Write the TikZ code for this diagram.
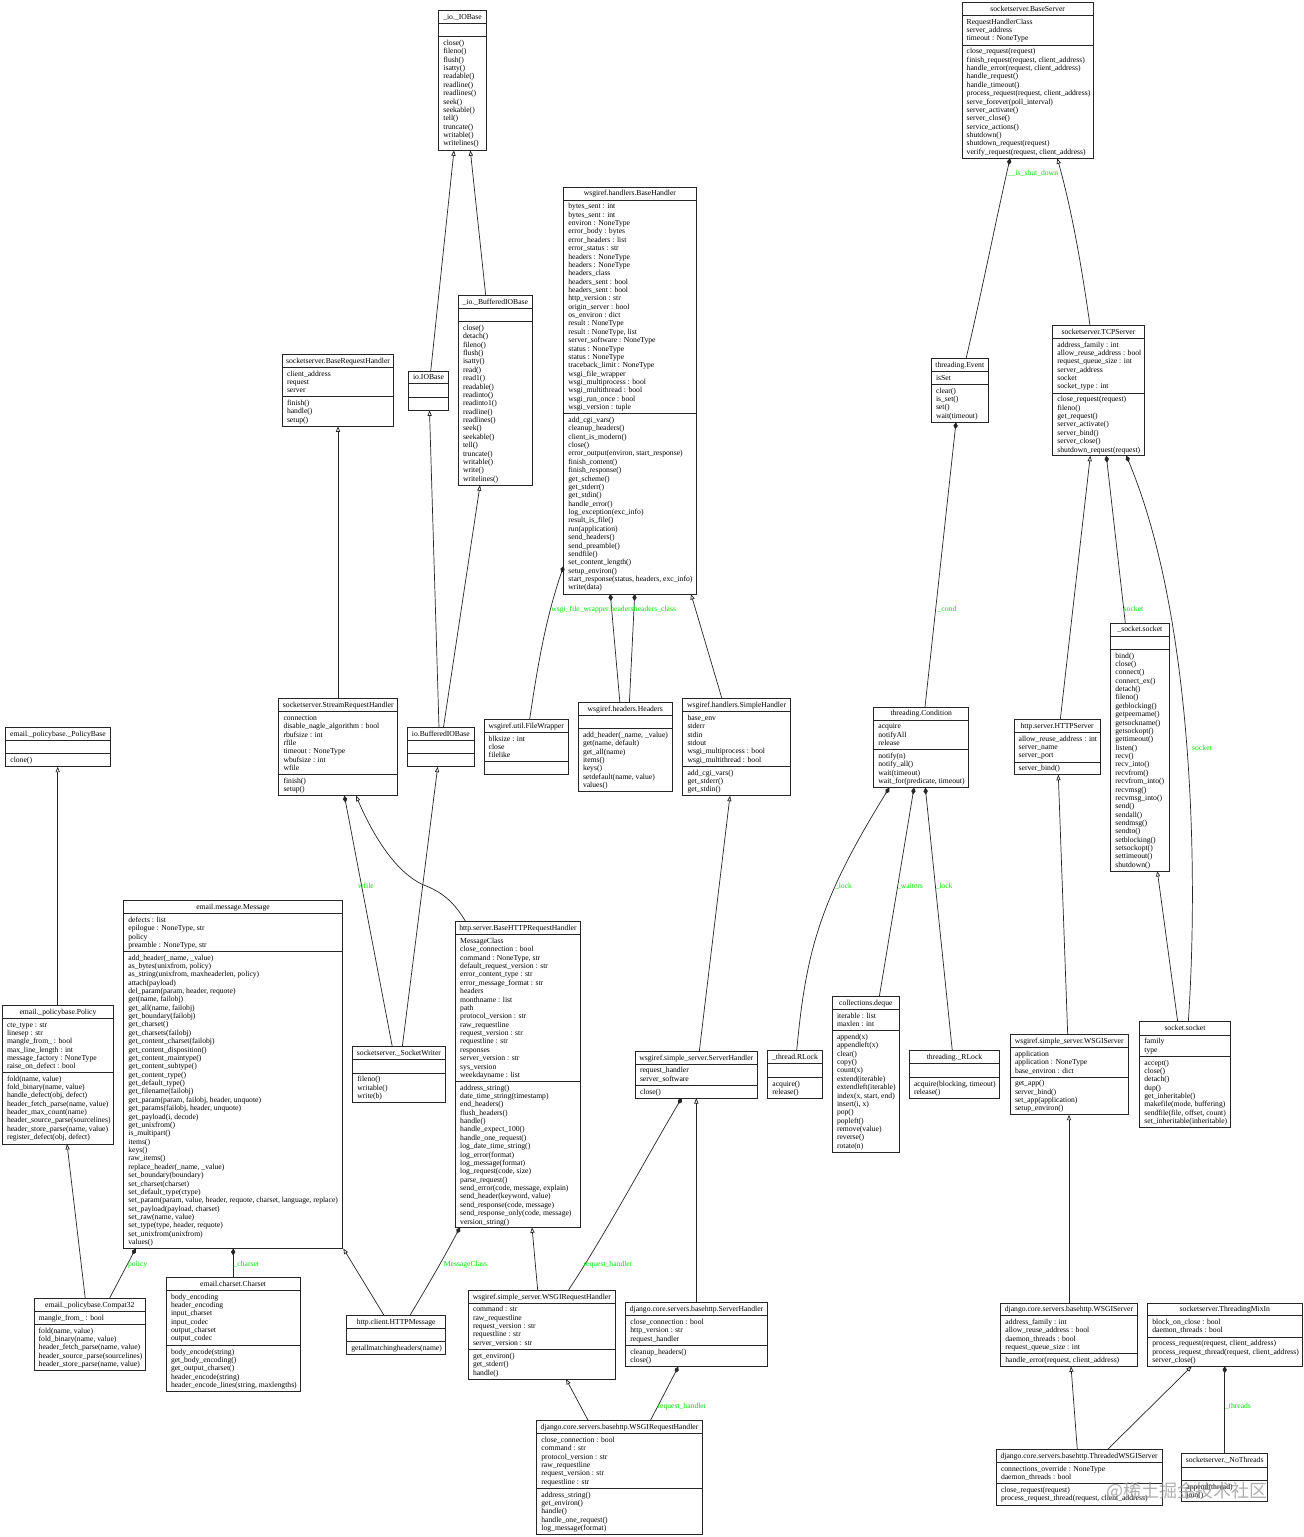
\documentclass[tikz,border=0pt]{standalone}
\usepackage{fontspec}
\setmainfont{Liberation Serif}
\newfontfamily\cjk{Noto Sans CJK SC}
\usetikzlibrary{calc,fit,arrows.meta}
\tikzset{
    classbox/.style={draw=black!85, line width=0.8pt, inner sep=0pt, outer sep=0pt},
    classrule/.style={draw=black!85, line width=0.8pt},
    classtitle/.style={anchor=base, yshift=-2.4pt, inner sep=0pt, font=\fontsize{7.65}{8.37}\selectfont},
    classtext/.style={anchor=north west, xshift=4.5pt, yshift=-3pt, inner sep=0pt, align=left, font=\fontsize{7.65}{8.37}\selectfont},
    edgelabel/.style={anchor=base, yshift=-1pt, inner sep=0pt, text=green!90!black, font=\fontsize{7.65}{8.37}\selectfont},
    inherit/.style={draw=black!85, line width=0.7pt, -{Triangle[open,length=5.5pt,width=4.2pt]}},
    compose/.style={draw=black!85, line width=0.7pt, -{Diamond[length=7pt,width=4.4pt]}}
}
% name, top left, bottom right, first rule, second rule, title, attributes, methods
\newcommand{\umlclass}[8]{%
    \node[classbox, fit={(#2) (#3)}] (#1) {};
    \draw[classrule] (#1.west |- 0,#4) -- (#1.east |- 0,#4);
    \draw[classrule] (#1.west |- 0,#5) -- (#1.east |- 0,#5);
    \node[classtitle] (#1t) at ($(#1.north)!.5!(#1.north |- 0,#4)$) {#6};
    \node[classtext] (#1a) at (#1.west |- 0,#4) {\rule{0pt}{5.6pt}#7};
    \node[classtext] (#1m) at (#1.west |- 0,#5) {\rule{0pt}{5.6pt}#8};
}
\catcode`\_=12
\begin{document}
\begin{tikzpicture}[x=1pt,y=-1pt]
    \path[use as bounding box, fill=white] (0,0) rectangle (1304,1537);

    % left column
    \umlclass{policybase}{5.7,727.7}{110.3,766.7}{740.7}{753.7}{email._policybase._PolicyBase}{}{clone()}
    \umlclass{policy}{2.3,1005.3}{113.7,1144}{1018.3}{1072.3}{email._policybase.Policy}
        {cte_type : str\\linesep : str\\mangle_from_ : bool\\max_line_length : int\\message_factory : NoneType\\raise_on_defect : bool}
        {fold(name, value)\\fold_binary(name, value)\\handle_defect(obj, defect)\\header_fetch_parse(name, value)\\header_max_count(name)\\header_source_parse(sourcelines)\\header_store_parse(name, value)\\register_defect(obj, defect)}
    \umlclass{compat}{34,1298.7}{145.7,1370.3}{1311.7}{1324.3}{email._policybase.Compat32}
        {mangle_from_ : bool}
        {fold(name, value)\\fold_binary(name, value)\\header_fetch_parse(name, value)\\header_source_parse(sourcelines)\\header_store_parse(name, value)}
    \umlclass{message}{123.7,900.5}{342.5,1248.5}{913.5}{951.2}{email.message.Message}
        {defects : list\\epilogue : NoneType, str\\policy\\preamble : NoneType, str}
        {add_header(_name, _value)\\as_bytes(unixfrom, policy)\\as_string(unixfrom, maxheaderlen, policy)\\attach(payload)\\del_param(param, header, requote)\\get(name, failobj)\\get_all(name, failobj)\\get_boundary(failobj)\\get_charset()\\get_charsets(failobj)\\get_content_charset(failobj)\\get_content_disposition()\\get_content_maintype()\\get_content_subtype()\\get_content_type()\\get_default_type()\\get_filename(failobj)\\get_param(param, failobj, header, unquote)\\get_params(failobj, header, unquote)\\get_payload(i, decode)\\get_unixfrom()\\is_multipart()\\items()\\keys()\\raw_items()\\replace_header(_name, _value)\\set_boundary(boundary)\\set_charset(charset)\\set_default_type(ctype)\\set_param(param, value, header, requote, charset, language, replace)\\set_payload(payload, charset)\\set_raw(name, value)\\set_type(type, header, requote)\\set_unixfrom(unixfrom)\\values()}
    \umlclass{charset}{166.3,1277.7}{300,1391.3}{1290.3}{1345.3}{email.charset.Charset}
        {body_encoding\\header_encoding\\input_charset\\input_codec\\output_charset\\output_codec}
        {body_encode(string)\\get_body_encoding()\\get_output_charset()\\header_encode(string)\\header_encode_lines(string, maxlengths)}
    \umlclass{httpmessage}{346.7,1315.3}{445.7,1354}{1328}{1341.3}{http.client.HTTPMessage}{}{getallmatchingheaders(name)}

    % io and request handlers
    \umlclass{iobase}{438.7,10.3}{486.3,150.3}{23.7}{36.7}{_io._IOBase}{}
        {close()\\fileno()\\flush()\\isatty()\\readable()\\readline()\\readlines()\\seek()\\seekable()\\tell()\\truncate()\\writable()\\writelines()}
    \umlclass{bufferedbase}{458.3,295.3}{532.3,485.3}{308.3}{321.7}{_io._BufferedIOBase}{}
        {close()\\detach()\\fileno()\\flush()\\isatty()\\read()\\read1()\\readable()\\readinto()\\readinto1()\\readline()\\readlines()\\seek()\\seekable()\\tell()\\truncate()\\writable()\\write()\\writelines()}
    \umlclass{ioiobase}{408.7,371.3}{448.3,410.3}{383.7}{397.3}{io.IOBase}{}{}
    \umlclass{baserequest}{282.3,354.7}{393.7,426.3}{367.3}{396.7}{socketserver.BaseRequestHandler}
        {client_address\\request\\server}
        {finish()\\handle()\\setup()}
    \umlclass{streamhandler}{278.8,698.7}{397.8,795.7}{711.7}{774.7}{socketserver.StreamRequestHandler}
        {connection\\disable_nagle_algorithm : bool\\rbufsize : int\\rfile\\timeout : NoneType\\wbufsize : int\\wfile}
        {finish()\\setup()}
    \umlclass{iobuffered}{407.6,727.7}{474.2,766.7}{740.3}{753.7}{io.BufferedIOBase}{}{}
    \umlclass{socketwriter}{352.7,1046.7}{445.3,1102.3}{1059.3}{1073}{socketserver._SocketWriter}{}
        {fileno()\\writable()\\write(b)}
    \umlclass{basehttp}{455.5,921.7}{580.3,1227.3}{934.7}{1081.3}{http.server.BaseHTTPRequestHandler}
        {MessageClass\\close_connection : bool\\command : NoneType, str\\default_request_version : str\\error_content_type : str\\error_message_format : str\\headers\\monthname : list\\path\\protocol_version : str\\raw_requestline\\request_version : str\\requestline : str\\responses\\server_version : str\\sys_version\\weekdayname : list}
        {address_string()\\date_time_string(timestamp)\\end_headers()\\flush_headers()\\handle()\\handle_expect_100()\\handle_one_request()\\log_date_time_string()\\log_error(format)\\log_message(format)\\log_request(code, size)\\parse_request()\\send_error(code, message, explain)\\send_header(keyword, value)\\send_response(code, message)\\send_response_only(code, message)\\version_string()}

    % wsgiref
    \umlclass{basehandler}{563.7,187}{696,594}{200}{413.7}{wsgiref.handlers.BaseHandler}
        {bytes_sent : int\\bytes_sent : int\\environ : NoneType\\error_body : bytes\\error_headers : list\\error_status : str\\headers : NoneType\\headers : NoneType\\headers_class\\headers_sent : bool\\headers_sent : bool\\http_version : str\\origin_server : bool\\os_environ : dict\\result : NoneType\\result : NoneType, list\\server_software : NoneType\\status : NoneType\\status : NoneType\\traceback_limit : NoneType\\wsgi_file_wrapper\\wsgi_multiprocess : bool\\wsgi_multithread : bool\\wsgi_run_once : bool\\wsgi_version : tuple}
        {add_cgi_vars()\\cleanup_headers()\\client_is_modern()\\close()\\error_output(environ, start_response)\\finish_content()\\finish_response()\\get_scheme()\\get_stderr()\\get_stdin()\\handle_error()\\log_exception(exc_info)\\result_is_file()\\run(application)\\send_headers()\\send_preamble()\\sendfile()\\set_content_length()\\setup_environ()\\start_response(status, headers, exc_info)\\write(data)}
    \umlclass{filewrapper}{484,719.7}{568.5,774.7}{732.3}{761.7}{wsgiref.util.FileWrapper}
        {blksize : int\\close\\filelike}{}
    \umlclass{headers}{578.3,702.7}{672.3,791.7}{715.3}{728.7}{wsgiref.headers.Headers}{}
        {add_header(_name, _value)\\get(name, default)\\get_all(name)\\items()\\keys()\\setdefault(name, value)\\values()}
    \umlclass{simplehandler}{682.8,698.7}{790.3,795.7}{711.7}{766.3}{wsgiref.handlers.SimpleHandler}
        {base_env\\stderr\\stdin\\stdout\\wsgi_multiprocess : bool\\wsgi_multithread : bool}
        {add_cgi_vars()\\get_stderr()\\get_stdin()}
    \umlclass{serverhandler}{635.3,1051.3}{757.3,1098}{1064}{1085.3}{wsgiref.simple_server.ServerHandler}
        {request_handler\\server_software}
        {close()}
    \umlclass{wsgirequest}{468.3,1290.3}{615.3,1379}{1303}{1349.7}{wsgiref.simple_server.WSGIRequestHandler}
        {command : str\\raw_requestline\\request_version : str\\requestline : str\\server_version : str}
        {get_environ()\\get_stderr()\\handle()}
    \umlclass{djserverhandler}{625.7,1302.7}{767.3,1366.7}{1315.7}{1345.3}{django.core.servers.basehttp.ServerHandler}
        {close_connection : bool\\http_version : str\\request_handler}
        {cleanup_headers()\\close()}
    \umlclass{djrequest}{536.7,1420.7}{702.3,1534.3}{1433.7}{1488.3}{django.core.servers.basehttp.WSGIRequestHandler}
        {close_connection : bool\\command : str\\protocol_version : str\\raw_requestline\\request_version : str\\requestline : str}
        {address_string()\\get_environ()\\handle()\\handle_one_request()\\log_message(format)}

    % threading
    \umlclass{condition}{873.7,707}{968.7,787.7}{720}{749.7}{threading.Condition}
        {acquire\\notifyAll\\release}
        {notify(n)\\notify_all()\\wait(timeout)\\wait_for(predicate, timeout)}
    \umlclass{threadrlock}{767.7,1050.7}{822.3,1098.3}{1063.7}{1077.3}{_thread.RLock}{}
        {acquire()\\release()}
    \umlclass{deque}{832.3,996.7}{899.3,1152.3}{1009.7}{1030.7}{collections.deque}
        {iterable : list\\maxlen : int}
        {append(x)\\appendleft(x)\\clear()\\copy()\\count(x)\\extend(iterable)\\extendleft(iterable)\\index(x, start, end)\\insert(i, x)\\pop()\\popleft()\\remove(value)\\reverse()\\rotate(n)}
    \umlclass{rlock}{909.3,1050.7}{999.7,1098.3}{1063.7}{1077.3}{threading._RLock}{}
        {acquire(blocking, timeout)\\release()}
    \umlclass{event}{931.3,358.7}{988.3,422.3}{371.7}{384.3}{threading.Event}
        {isSet}
        {clear()\\is_set()\\set()\\wait(timeout)}

    % servers
    \umlclass{baseserver}{962,2.7}{1093.3,158.3}{15.3}{45}{socketserver.BaseServer}
        {RequestHandlerClass\\server_address\\timeout : NoneType}
        {close_request(request)\\finish_request(request, client_address)\\handle_error(request, client_address)\\handle_request()\\handle_timeout()\\process_request(request, client_address)\\serve_forever(poll_interval)\\server_activate()\\server_close()\\service_actions()\\shutdown()\\shutdown_request(request)\\verify_request(request, client_address)}
    \umlclass{tcpserver}{1052.7,325.3}{1144.3,455.7}{338.3}{393}{socketserver.TCPServer}
        {address_family : int\\allow_reuse_address : bool\\request_queue_size : int\\server_address\\socket\\socket_type : int}
        {close_request(request)\\fileno()\\get_request()\\server_activate()\\server_bind()\\server_close()\\shutdown_request(request)}
    \umlclass{rawsocket}{1110.7,623}{1169,871}{636}{649.3}{_socket.socket}{}
        {bind()\\close()\\connect()\\connect_ex()\\detach()\\fileno()\\getblocking()\\getpeername()\\getsockname()\\getsockopt()\\gettimeout()\\listen()\\recv()\\recv_into()\\recvfrom()\\recvfrom_into()\\recvmsg()\\recvmsg_into()\\send()\\sendall()\\sendmsg()\\sendto()\\setblocking()\\setsockopt()\\settimeout()\\shutdown()}
    \umlclass{httpserver}{1014,719.3}{1100.3,774.7}{732.3}{762}{http.server.HTTPServer}
        {allow_reuse_address : int\\server_name\\server_port}
        {server_bind()}
    \umlclass{wsgiserver}{1010.3,1034.7}{1128,1114.7}{1047.7}{1077}{wsgiref.simple_server.WSGIServer}
        {application\\application : NoneType\\base_environ : dict}
        {get_app()\\server_bind()\\set_app(application)\\setup_environ()}
    \umlclass{socketsocket}{1139.7,1021.7}{1230.3,1127.3}{1035}{1056.3}{socket.socket}
        {family\\type}
        {accept()\\close()\\detach()\\dup()\\get_inheritable()\\makefile(mode, buffering)\\sendfile(file, offset, count)\\set_inheritable(inheritable)}
    \umlclass{djserver}{1000.7,1303}{1137.3,1366.3}{1315.7}{1353.7}{django.core.servers.basehttp.WSGIServer}
        {address_family : int\\allow_reuse_address : bool\\daemon_threads : bool\\request_queue_size : int}
        {handle_error(request, client_address)}
    \umlclass{mixin}{1147.7,1303}{1302,1366.3}{1315.7}{1337}{socketserver.ThreadingMixIn}
        {block_on_close : bool\\daemon_threads : bool}
        {process_request(request, client_address)\\process_request_thread(request, client_address)\\server_close()}
    \umlclass{threaded}{996.3,1449.7}{1162,1505}{1462.7}{1483.7}{django.core.servers.basehttp.ThreadedWSGIServer}
        {connections_override : NoneType\\daemon_threads : bool}
        {close_request(request)\\process_request_thread(request, client_address)}
    \umlclass{nothreads}{1181.7,1453.7}{1267.7,1501.3}{1467}{1480.3}{socketserver._NoThreads}{}
        {append(thread)\\join()}

    % inheritance
    \draw[inherit] (ioiobase.north -| 430.7,0) -- (iobase.south -| 454,0);
    \draw[inherit] (bufferedbase.north -| 485.7,0) -- (iobase.south -| 470.3,0);
    \draw[inherit] (iobuffered.north -| 439,0) -- (ioiobase.south -| 429.5,0);
    \draw[inherit] (iobuffered.north -| 443.4,0) -- (bufferedbase.south -| 480,0);
    \draw[inherit] (streamhandler.north -| 338,0) -- (baserequest.south -| 338,0);
    \draw[inherit] (socketwriter.north -| 402.3,0) -- (iobuffered.south -| 437.7,0);
    \draw[inherit] (basehttp.north -| 465.7,0) .. controls (453,900) and (440,891) .. (422,884.3) .. controls (397,872) and (375,840) .. (streamhandler.south -| 356,0);
    \draw[inherit] (simplehandler.north -| 722,0) -- (basehandler.south -| 691,0);
    \draw[inherit] (serverhandler.north -| 699.3,0) -- (simplehandler.south -| 730,0);
    \draw[inherit] (policy.north -| 57.7,0) -- (policybase.south -| 57.7,0);
    \draw[inherit] (compat.north -| 85.3,0) -- (policy.south -| 67,0);
    \draw[inherit] (httpmessage.north -| 384,0) -- (message.south -| 343.3,0);
    \draw[inherit] (wsgirequest.north -| 537.7,0) -- (basehttp.south -| 532,0);
    \draw[inherit] (djserverhandler.north -| 696.3,0) -- (serverhandler.south -| 696.3,0);
    \draw[inherit] (djrequest.north -| 588.3,0) -- (wsgirequest.south -| 566,0);
    \draw[inherit] (tcpserver.north -| 1090,0) .. controls (1082,270) and (1073,215) .. (baseserver.south -| 1057.3,0);
    \draw[inherit] (httpserver.north -| 1060.3,0) -- (tcpserver.south -| 1090.3,0);
    \draw[inherit] (socketsocket.north -| 1177.7,0) -- (rawsocket.south -| 1157.3,0);
    \draw[inherit] (wsgiserver.north -| 1067.7,0) -- (httpserver.south -| 1058.3,0);
    \draw[inherit] (djserver.north -| 1069,0) -- (wsgiserver.south -| 1069,0);
    \draw[inherit] (threaded.north -| 1077.3,0) -- (djserver.south -| 1071,0);
    \draw[inherit] (threaded.north -| 1107.3,0) -- (mixin.south -| 1191.7,0);

    % composition
    \draw[compose] (socketwriter.north -| 392.3,0) -- (streamhandler.south -| 344.4,0);
    \draw[compose] (filewrapper.north -| 529.6,0) .. controls (537,670) and (545,620) .. (basehandler.west |- 0,566);
    \draw[compose] (headers.north -| 619.9,0) -- (basehandler.south -| 610.3,0);
    \draw[compose] (headers.north -| 629.4,0) -- (basehandler.south -| 634.7,0);
    \draw[compose] (compat.north -| 109.3,0) -- (message.south -| 135.7,0);
    \draw[compose] (charset.north -| 233.2,0) -- (message.south -| 233.2,0);
    \draw[compose] (httpmessage.north -| 410,0) .. controls (425,1290) and (440,1265) .. (basehttp.south -| 460,0);
    \draw[compose] (wsgirequest.north -| 568.3,0) .. controls (605,1235) and (645,1160) .. (serverhandler.south -| 681.7,0);
    \draw[compose] (djrequest.north -| 650.3,0) -- (djserverhandler.south -| 678.3,0);
    \draw[compose] (event.north -| 966,0) .. controls (980,300) and (995,225) .. (baseserver.south -| 1010,0);
    \draw[compose] (condition.north -| 925,0) -- (event.south -| 956,0);
    \draw[compose] (rawsocket.north -| 1125.3,0) -- (tcpserver.south -| 1106.3,0);
    \draw[compose] (socketsocket.north -| 1188.3,0) .. controls (1198,880) and (1195,620) .. (tcpserver.south -| 1126.3,0);
    \draw[compose] (nothreads.north -| 1224.7,0) -- (mixin.south -| 1224.7,0);
    \draw[compose] (threadrlock.north -| 796.7,0) .. controls (806,950) and (820,900) .. (condition.south -| 889.3,0);
    \draw[compose] (deque.north -| 879.3,0) -- (condition.south -| 914,0);
    \draw[compose] (rlock.north -| 952.3,0) -- (condition.south -| 925.3,0);

    % edge names
    \node[edgelabel] (lblshutdown) at (1033,174) {__is_shut_down};
    \node[edgelabel] (lblcond) at (947,610) {_cond};
    \node[edgelabel] (lblsocketa) at (1133.5,610) {socket};
    \node[edgelabel] (lblsocketb) at (1202,749) {socket};
    \node[edgelabel] (lblwrapper) at (580,610) {wsgi_file_wrapper};
    \node[edgelabel] (lblheaders) at (622,610) {headers};
    \node[edgelabel] (lblheadclass) at (655,610) {headers_class};
    \node[edgelabel] (lblwfile) at (366,887.5) {wfile};
    \node[edgelabel] (lblrlock) at (843.5,887.5) {_lock};
    \node[edgelabel] (lblwaiters) at (910,887.5) {_waiters};
    \node[edgelabel] (lbllock) at (944,887.5) {_lock};
    \node[edgelabel] (lblpolicy) at (137.7,1265) {policy};
    \node[edgelabel] (lblcharset) at (246.3,1265) {_charset};
    \node[edgelabel] (lblmsgclass) at (465.5,1265) {MessageClass};
    \node[edgelabel] (lblreqa) at (608,1265) {request_handler};
    \node[edgelabel] (lblreqb) at (682,1407.5) {request_handler};
    \node[edgelabel] (lblthreads) at (1238,1407.5) {_threads};

    \node[text=black!45, opacity=.7, inner sep=0pt, font=\cjk\fontsize{18}{20}\selectfont] (mark) at (1187,1491) {@稀土掘金技术社区};
\end{tikzpicture}
\end{document}
